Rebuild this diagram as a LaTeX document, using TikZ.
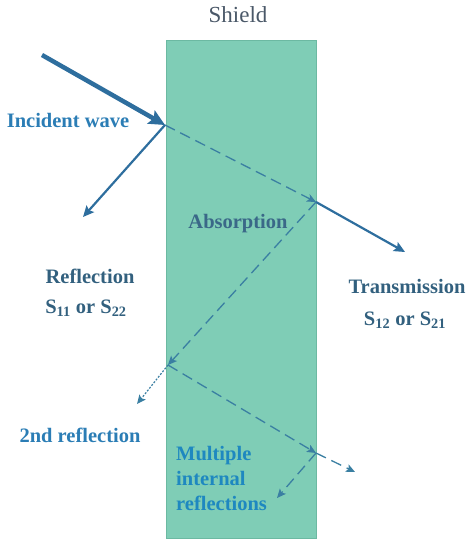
\documentclass[tikz,border=0pt]{standalone}
\usepackage{fontspec}
\setmainfont{Liberation Serif}
\usetikzlibrary{arrows.meta}
\definecolor{shieldfill}{HTML}{7FCDB6}
\definecolor{shielddraw}{HTML}{6CB9A2}
\definecolor{arrowblue}{HTML}{2E6E9E}
\definecolor{dashblue}{HTML}{3A7FA2}
\definecolor{incblue}{HTML}{2B7DB5}
\definecolor{darkslate}{HTML}{32607E}
\definecolor{absorbcol}{HTML}{3A6888}
\definecolor{multiblue}{HTML}{1E88C0}
\definecolor{shieldtext}{HTML}{4A5868}
\tikzset{
  lbl/.style={font=\fontsize{20.5}{25}\selectfont\bfseries, anchor=base, inner sep=0pt},
  solidarrow/.style={draw=arrowblue, line width=2.2pt, -{Stealth[length=11pt,width=10pt,inset=2pt]}},
  dasharrow/.style={draw=dashblue, line width=1.3pt, dash pattern=on 11pt off 6pt, -{Stealth[length=9pt,width=8pt,inset=2pt]}},
  dotarrow/.style={draw=dashblue, line width=1.2pt, dash pattern=on 2pt off 1.5pt, -{Stealth[length=9pt,width=8pt,inset=2pt]}},
}
\begin{document}
\begin{tikzpicture}[x=1pt,y=-1pt]
\useasboundingbox (0,0) rectangle (474,545);
\node[draw=shielddraw, fill=shieldfill, line width=1.2pt, minimum width=150pt, minimum height=498pt, inner sep=0pt, anchor=north west] (shield) at (166,40) {};
\node[anchor=base, inner sep=0pt, text=shieldtext, font=\fontsize{23}{26}\selectfont] (shieldlbl) at (238,23) {Shield};
% points
\coordinate (S0) at (42,55);
\coordinate (P1) at (165,125);
\coordinate (R1) at (83,217);
\coordinate (P2) at (316,202);
\coordinate (T1) at (405,252);
\coordinate (P3) at (168,365);
\coordinate (R2) at (137,404);
\coordinate (P4) at (316,453);
\coordinate (T2) at (355,472);
\coordinate (R3) at (277,498);
% incident
\draw[draw=arrowblue, line width=4.5pt, -{Stealth[length=16pt,width=15pt,inset=3pt]}] (S0) -- (P1);
\draw[solidarrow] (P1) -- (R1);
\draw[dasharrow] (P1) -- (P2);
\draw[solidarrow] (P2) -- (T1);
\draw[dasharrow] (P2) -- (P3);
\draw[dotarrow] (P3) -- (R2);
\draw[dasharrow] (P3) -- (P4);
\draw[dasharrow] (P4) -- (T2);
\draw[dasharrow] (P4) -- (R3);
% labels
\node[lbl, text=incblue] (inc) at (68,128) {Incident wave};
\node[lbl, text=absorbcol] (abs) at (238,228) {Absorption};
\node[lbl, text=darkslate] (refl) at (90,283) {Reflection};
\node[lbl, text=darkslate] (refls) at (86,313) {S\textsubscript{11} or S\textsubscript{22}};
\node[lbl, text=darkslate] (trans) at (407,293) {Transmission};
\node[lbl, text=darkslate] (transs) at (405,325) {S\textsubscript{12} or S\textsubscript{21}};
\node[lbl, text=incblue] (second) at (80,442) {2nd reflection};
\node[lbl, text=multiblue, anchor=base west] (multi) at (176,460) {Multiple};
\node[lbl, text=multiblue, anchor=base west] (multi2) at (176,485) {internal};
\node[lbl, text=multiblue, anchor=base west] (multi3) at (176,510) {reflections};
\end{tikzpicture}
\end{document}
